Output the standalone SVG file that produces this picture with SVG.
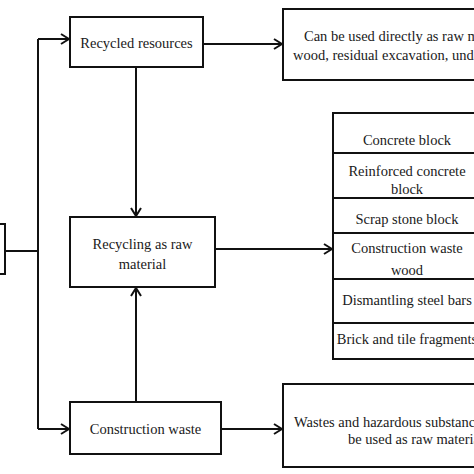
<svg xmlns="http://www.w3.org/2000/svg" width="474" height="474" viewBox="0 0 474 474">
<defs>
<style>
.box{fill:#fff;stroke:#111;stroke-width:2}
.ln{fill:none;stroke:#111;stroke-width:2}
text{font-family:"Liberation Serif","Times New Roman",serif;font-size:14.5px;fill:#1a1a1a}
.c{text-anchor:middle}
</style>
<marker id="ah" viewBox="0 0 10 12" refX="9" refY="6" markerWidth="10" markerHeight="12" markerUnits="userSpaceOnUse" orient="auto">
<path d="M1,1 L9,6 L1,11" fill="none" stroke="#111" stroke-width="2"/>
</marker>
</defs>
<rect width="474" height="474" fill="#fff"/>
<g id="connectors">
<path class="ln" d="M5,251 H38"/>
<path class="ln" d="M38,39 V429"/>
<path class="ln" d="M38,39 H69" marker-end="url(#ah)"/>
<path class="ln" d="M38,429 H69" marker-end="url(#ah)"/>
<path class="ln" d="M136,67 V216" marker-end="url(#ah)"/>
<path class="ln" d="M136,402 V288" marker-end="url(#ah)"/>
<path class="ln" d="M203,44 H282" marker-end="url(#ah)"/>
<path class="ln" d="M215,249 H332" marker-end="url(#ah)"/>
<path class="ln" d="M221,429 H282" marker-end="url(#ah)"/>
</g>
<g id="source">
<rect class="box" x="-20" y="224" width="25" height="50"/>
</g>
<g id="recycled-resources">
<rect class="box" x="70" y="17" width="133" height="50"/>
<text class="c" x="136.5" y="48">Recycled resources</text>
</g>
<g id="recycling-raw">
<rect class="box" x="70" y="217" width="145" height="70"/>
<text class="c" x="142.5" y="249">Recycling as raw</text>
<text class="c" x="142.5" y="269">material</text>
</g>
<g id="construction-waste">
<rect class="box" x="70" y="402" width="151" height="52"/>
<text class="c" x="145.5" y="434">Construction waste</text>
</g>
<g id="direct-use">
<rect class="box" x="283" y="9" width="220" height="71"/>
<text x="304" y="41">Can be used directly as raw materials</text>
<text x="293" y="60">wood, residual excavation, undamaged</text>
</g>
<g id="materials">
<rect class="box" x="333" y="113" width="150" height="246"/>
<path class="ln" d="M333,153 H483 M333,198 H483 M333,233 H483 M333,279 H483 M333,323 H483"/>
<text class="c" x="407" y="145">Concrete block</text>
<text class="c" x="407" y="176">Reinforced concrete</text>
<text class="c" x="407" y="194">block</text>
<text class="c" x="407" y="224">Scrap stone block</text>
<text class="c" x="407" y="253">Construction waste</text>
<text class="c" x="407" y="275">wood</text>
<text class="c" x="407" y="305">Dismantling steel bars</text>
<text class="c" x="407" y="344">Brick and tile fragments</text>
</g>
<g id="hazardous">
<rect class="box" x="283" y="384" width="220" height="83"/>
<text x="294" y="427">Wastes and hazardous substances that cannot</text>
<text x="348" y="444">be used as raw materials</text>
</g>
</svg>
